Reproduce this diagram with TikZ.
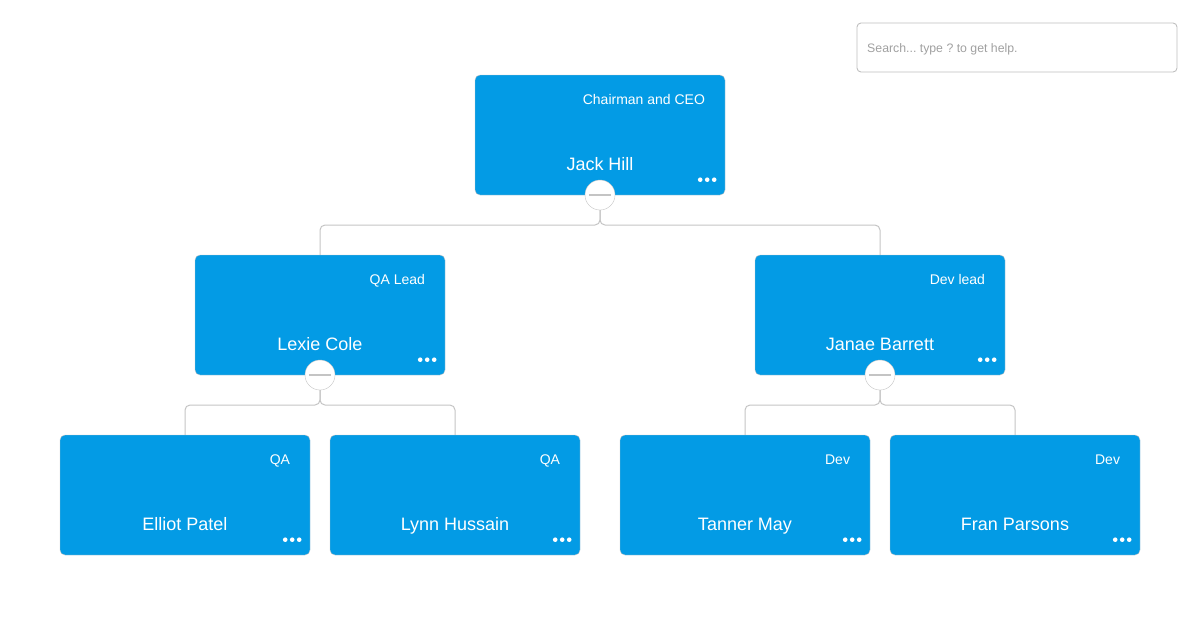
\documentclass[tikz,border=0pt]{standalone}
\usepackage{fontspec}
\setmainfont{Liberation Sans}
\usetikzlibrary{positioning}
\frenchspacing

\definecolor{orgblue}{HTML}{039BE5}
\definecolor{linegray}{HTML}{C4C4C4}
\definecolor{hintgray}{HTML}{A0A0A0}

\tikzset{
	person/.style={draw=linegray, fill=orgblue, rounded corners=5pt, minimum width=250pt, minimum height=120pt, inner sep=0pt},
	role/.style={text=white, font=\fontsize{14}{16}\selectfont, anchor=base east, inner sep=0pt},
	fullname/.style={text=white, font=\fontsize{18}{20}\selectfont, anchor=base, inner sep=0pt},
	toggle/.style={circle, draw=linegray, fill=white, minimum size=30pt, inner sep=0pt},
	conn/.style={draw=linegray, line width=1pt, rounded corners=5pt}
}

% three dots at the lower right of a box
\newcommand{\moredots}[1]{%
	\fill[white] ([xshift=-25pt,yshift=15.5pt]#1.south east) circle (2.3pt);
	\fill[white] ([xshift=-18pt,yshift=15.5pt]#1.south east) circle (2.3pt);
	\fill[white] ([xshift=-11pt,yshift=15.5pt]#1.south east) circle (2.3pt);
}

\begin{document}
\begin{tikzpicture}[x=1pt,y=-1pt]
	
	\useasboundingbox (0,0) rectangle (1200,630);
	
	% search box
	\node[draw=black!25, line width=0.9pt, rounded corners=4pt, minimum width=320pt, minimum height=49pt] (search) at (1017,47.5) {};
	\node[anchor=base west, text=hintgray, font=\fontsize{12.3}{14}\selectfont, inner sep=0pt] (hint) at (867,52.5) {Search... type ? to get help.};
	
	% connectors
	\coordinate (ceo-tog) at (600,195);
	\coordinate (lexie-tog) at (320,375);
	\coordinate (janae-tog) at (880,375);
	
	\node[person] (ceo) at (600,135) {};
	\node[person] (lexie) at (320,315) {};
	\node[person] (janae) at (880,315) {};
	\node[person] (elliot) at (185,495) {};
	\node[person] (lynn) at (455,495) {};
	\node[person] (tanner) at (745,495) {};
	\node[person] (fran) at (1015,495) {};
	
	\draw[conn] (ceo-tog) -- ++(0,30) -| (lexie.north);
	\draw[conn] (ceo-tog) -- ++(0,30) -| (janae.north);
	\draw[conn] (lexie-tog) -- ++(0,30) -| (elliot.north);
	\draw[conn] (lexie-tog) -- ++(0,30) -| (lynn.north);
	\draw[conn] (janae-tog) -- ++(0,30) -| (tanner.north);
	\draw[conn] (janae-tog) -- ++(0,30) -| (fran.north);
	
	% texts
	\node[role] at ([xshift=-20pt,yshift=-30pt]ceo.north east) {Chairman and CEO};
	\node[fullname] at ([yshift=25pt]ceo.south) {Jack Hill};
	\moredots{ceo}
	
	\node[role] at ([xshift=-20pt,yshift=-30pt]lexie.north east) {QA Lead};
	\node[fullname] at ([yshift=25pt]lexie.south) {Lexie Cole};
	\moredots{lexie}
	
	\node[role] at ([xshift=-20pt,yshift=-30pt]janae.north east) {Dev lead};
	\node[fullname] at ([yshift=25pt]janae.south) {Janae Barrett};
	\moredots{janae}
	
	\node[role] at ([xshift=-20pt,yshift=-30pt]elliot.north east) {QA};
	\node[fullname] at ([yshift=25pt]elliot.south) {Elliot Patel};
	\moredots{elliot}
	
	\node[role] at ([xshift=-20pt,yshift=-30pt]lynn.north east) {QA};
	\node[fullname] at ([yshift=25pt]lynn.south) {Lynn Hussain};
	\moredots{lynn}
	
	\node[role] at ([xshift=-20pt,yshift=-30pt]tanner.north east) {Dev};
	\node[fullname] at ([yshift=25pt]tanner.south) {Tanner May};
	\moredots{tanner}
	
	\node[role] at ([xshift=-20pt,yshift=-30pt]fran.north east) {Dev};
	\node[fullname] at ([yshift=25pt]fran.south) {Fran Parsons};
	\moredots{fran}
	
	% collapse buttons
	\node[toggle] (ceo-btn) at (ceo-tog) {};
	\draw[linegray, line width=1.2pt] ([xshift=-11pt]ceo-btn.center) -- ([xshift=11pt]ceo-btn.center);
	\node[toggle] (lexie-btn) at (lexie-tog) {};
	\draw[linegray, line width=1.2pt] ([xshift=-11pt]lexie-btn.center) -- ([xshift=11pt]lexie-btn.center);
	\node[toggle] (janae-btn) at (janae-tog) {};
	\draw[linegray, line width=1.2pt] ([xshift=-11pt]janae-btn.center) -- ([xshift=11pt]janae-btn.center);
	
\end{tikzpicture}
\end{document}
